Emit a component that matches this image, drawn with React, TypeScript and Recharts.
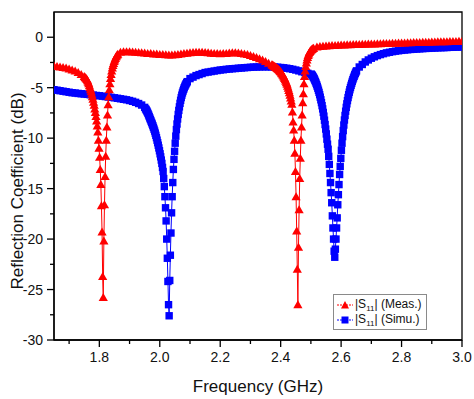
// S11 reflection coefficient, measured vs simulated

import React from 'react'
import { ScatterChart, Scatter, XAxis, YAxis, ReferenceArea } from 'recharts'

// measured |S11| (red triangles), frequencies in GHz, values in dB
const MEAS_FREQ_A = [1.65, 1.66, 1.67, 1.68, 1.69, 1.7, 1.71, 1.72, 1.73, 1.74, 1.75]
const MEAS_DB_A = [-2.85, -2.9, -2.95, -3.0, -3.05, -3.15, -3.25, -3.35, -3.5, -3.7, -3.9]

const MEAS_FREQ_B = [
  1.753, 1.755, 1.757, 1.759, 1.761, 1.763, 1.765, 1.767, 1.769, 1.771,
  1.773, 1.775, 1.777, 1.779, 1.781, 1.783, 1.785, 1.787, 1.789, 1.791,
  1.793, 1.795, 1.797, 1.799, 1.801, 1.803, 1.805, 1.807, 1.809, 1.811,
  1.813, 1.815, 1.817, 1.819, 1.821, 1.823, 1.825, 1.827, 1.829, 1.831,
  1.833, 1.835, 1.837, 1.839, 1.841, 1.843, 1.845, 1.847, 1.849, 1.851,
  1.853, 1.855, 1.857, 1.859, 1.861,
]
const MEAS_DB_B = [
  -3.98, -4.04, -4.11, -4.2, -4.3, -4.45, -4.6, -4.8, -5.0, -5.2,
  -5.4, -5.65, -5.9, -6.15, -6.45, -6.75, -7.1, -7.45, -7.85, -8.3,
  -8.8, -9.4, -10.2, -11.0, -11.9, -13.1, -14.6, -16.7, -19.3, -23.7,
  -25.8, -20.2, -16.6, -13.8, -11.8, -10.2, -8.9, -7.7, -6.7, -5.9,
  -5.2, -4.6, -4.1, -3.7, -3.35, -3.05, -2.8, -2.6, -2.4, -2.25,
  -2.1, -1.95, -1.85, -1.75, -1.68,
]

const MEAS_FREQ_C = [
  1.87, 1.88, 1.89, 1.9, 1.91, 1.92, 1.93, 1.94, 1.95, 1.96,
  1.97, 1.98, 1.99, 2.0, 2.01, 2.02, 2.03, 2.04, 2.05, 2.06,
  2.07, 2.08, 2.09, 2.1, 2.11, 2.12, 2.13, 2.14, 2.15, 2.16,
  2.17, 2.18, 2.19, 2.2, 2.21, 2.22, 2.23, 2.24, 2.25, 2.26,
  2.27, 2.28, 2.29, 2.3, 2.31, 2.32, 2.33, 2.34, 2.35, 2.36,
]
const MEAS_DB_C = [
  -1.5, -1.45, -1.45, -1.45, -1.47, -1.5, -1.52, -1.55, -1.57, -1.6,
  -1.62, -1.65, -1.67, -1.7, -1.72, -1.74, -1.75, -1.75, -1.73, -1.7,
  -1.66, -1.62, -1.58, -1.55, -1.52, -1.5, -1.5, -1.5, -1.52, -1.55,
  -1.58, -1.6, -1.62, -1.63, -1.62, -1.6, -1.57, -1.55, -1.55, -1.57,
  -1.6, -1.65, -1.72, -1.8, -1.9, -2.0, -2.12, -2.25, -2.4, -2.58,
]

const MEAS_FREQ_D = [
  2.371, 2.373, 2.375, 2.377, 2.379, 2.381, 2.383, 2.385, 2.387, 2.389,
  2.391, 2.393, 2.395, 2.397, 2.399, 2.401, 2.403, 2.405, 2.407, 2.409,
  2.411, 2.413, 2.415, 2.417, 2.419, 2.421, 2.423, 2.425, 2.427, 2.429,
  2.431, 2.433, 2.435, 2.437, 2.439, 2.441, 2.443, 2.445, 2.447, 2.449,
  2.451, 2.453, 2.455, 2.457, 2.459, 2.461, 2.463, 2.465, 2.467, 2.469,
  2.471, 2.473, 2.475, 2.477, 2.479, 2.481, 2.483, 2.485, 2.487, 2.489,
  2.491, 2.493, 2.495, 2.497, 2.499, 2.501, 2.503, 2.505, 2.507, 2.509,
]
const MEAS_DB_D = [
  -2.72, -2.76, -2.8, -2.84, -2.88, -2.92, -2.96, -3.0, -3.05, -3.1,
  -3.15, -3.2, -3.26, -3.33, -3.4, -3.48, -3.56, -3.65, -3.75, -3.85,
  -3.96, -4.08, -4.21, -4.35, -4.5, -4.67, -4.85, -5.05, -5.27, -5.5,
  -5.75, -6.02, -6.32, -6.65, -7.4, -8.4, -9.2, -10.2, -11.5, -13.3,
  -15.8, -19.2, -23.0, -26.5, -20.8, -17.1, -14.0, -12.0, -10.2, -8.9,
  -7.7, -6.5, -5.6, -4.6, -3.9, -3.35, -2.9, -2.55, -2.25, -2.0,
  -1.8, -1.65, -1.52, -1.42, -1.34, -1.27, -1.21, -1.16, -1.12, -1.08,
]

const MEAS_FREQ_E = [
  2.52, 2.53, 2.54, 2.55, 2.56, 2.57, 2.58, 2.59, 2.6, 2.61,
  2.62, 2.63, 2.64, 2.65, 2.66, 2.67, 2.68, 2.69, 2.7, 2.71,
  2.72, 2.73, 2.74, 2.75, 2.76, 2.77, 2.78, 2.79, 2.8, 2.81,
  2.82, 2.83, 2.84, 2.85, 2.86, 2.87, 2.88, 2.89, 2.9, 2.91,
  2.92, 2.93, 2.94, 2.95, 2.96, 2.97, 2.98, 2.99, 3.0,
]
const MEAS_DB_E = [
  -0.98, -0.93, -0.9, -0.87, -0.85, -0.83, -0.81, -0.79, -0.77, -0.76,
  -0.75, -0.74, -0.73, -0.72, -0.71, -0.7, -0.69, -0.68, -0.67, -0.66,
  -0.65, -0.64, -0.63, -0.62, -0.61, -0.6, -0.59, -0.58, -0.57, -0.56,
  -0.55, -0.54, -0.53, -0.52, -0.51, -0.5, -0.5, -0.49, -0.48, -0.47,
  -0.46, -0.46, -0.45, -0.44, -0.43, -0.43, -0.42, -0.41, -0.4,
]

// simulated |S11| (blue squares)
const SIMU_FREQ_A = [
  1.65, 1.66, 1.67, 1.68, 1.69, 1.7, 1.71, 1.72, 1.73, 1.74,
  1.75, 1.76, 1.77, 1.78, 1.79, 1.8, 1.81, 1.82, 1.83, 1.84,
  1.85, 1.86, 1.87, 1.88, 1.89, 1.9, 1.91, 1.92, 1.93, 1.94, 1.95,
]
const SIMU_DB_A = [
  -5.2, -5.25, -5.3, -5.35, -5.4, -5.45, -5.5, -5.53, -5.57, -5.6,
  -5.63, -5.66, -5.7, -5.73, -5.77, -5.8, -5.84, -5.88, -5.92, -5.96,
  -6.0, -6.05, -6.1, -6.15, -6.2, -6.27, -6.35, -6.45, -6.57, -6.72, -6.95,
]

const SIMU_FREQ_B = [
  1.953, 1.955, 1.957, 1.959, 1.961, 1.963, 1.965, 1.967, 1.969, 1.971,
  1.973, 1.975, 1.977, 1.979, 1.981, 1.983, 1.985, 1.987, 1.989, 1.991,
  1.993, 1.995, 1.997, 1.999, 2.001, 2.003, 2.005, 2.007, 2.009, 2.011,
  2.013, 2.015, 2.017, 2.019, 2.021, 2.023, 2.025, 2.027, 2.029, 2.031,
  2.033, 2.035, 2.037, 2.039, 2.041, 2.043, 2.045, 2.047, 2.049, 2.051,
  2.053, 2.055, 2.057, 2.059, 2.061, 2.063, 2.065, 2.067, 2.069, 2.071,
  2.073, 2.075, 2.077, 2.079, 2.081, 2.083, 2.085, 2.087, 2.089, 2.091,
]
const SIMU_DB_B = [
  -7.1, -7.2, -7.3, -7.42, -7.55, -7.7, -7.85, -8.0, -8.15, -8.3,
  -8.45, -8.6, -8.76, -8.93, -9.11, -9.3, -9.5, -9.72, -9.95, -10.2,
  -10.45, -10.7, -10.97, -11.25, -11.55, -11.85, -12.17, -12.5, -12.9, -13.3,
  -14.0, -14.8, -15.8, -16.9, -18.2, -20.0, -21.9, -24.2, -26.5, -27.6,
  -24.1, -21.6, -19.4, -17.4, -15.8, -14.4, -13.1, -12.1, -11.3, -10.5,
  -9.8, -9.15, -8.6, -8.1, -7.65, -7.25, -6.9, -6.55, -6.25, -5.98,
  -5.74, -5.52, -5.33, -5.16, -5.0, -4.86, -4.73, -4.61, -4.5, -4.4,
]

const SIMU_FREQ_C = [
  2.1, 2.11, 2.12, 2.13, 2.14, 2.15, 2.16, 2.17, 2.18, 2.19,
  2.2, 2.21, 2.22, 2.23, 2.24, 2.25, 2.26, 2.27, 2.28, 2.29,
  2.3, 2.31, 2.32, 2.33, 2.34, 2.35, 2.36, 2.37, 2.38, 2.39,
  2.4, 2.41, 2.42, 2.43, 2.44, 2.45, 2.46, 2.47, 2.48, 2.49,
]
const SIMU_DB_C = [
  -4.1, -3.95, -3.8, -3.7, -3.6, -3.5, -3.45, -3.4, -3.35, -3.3,
  -3.25, -3.22, -3.18, -3.15, -3.12, -3.1, -3.07, -3.05, -3.02, -3.0,
  -2.98, -2.96, -2.95, -2.94, -2.93, -2.93, -2.93, -2.94, -2.95, -2.97,
  -3.0, -3.03, -3.07, -3.12, -3.18, -3.25, -3.33, -3.42, -3.5, -3.58,
]

const SIMU_FREQ_D = [
  2.501, 2.503, 2.505, 2.507, 2.509, 2.511, 2.513, 2.515, 2.517, 2.519,
  2.521, 2.523, 2.525, 2.527, 2.529, 2.531, 2.533, 2.535, 2.537, 2.539,
  2.541, 2.543, 2.545, 2.547, 2.549, 2.551, 2.553, 2.555, 2.557, 2.559,
  2.561, 2.563, 2.565, 2.567, 2.569, 2.571, 2.573, 2.575, 2.577, 2.579,
  2.581, 2.583, 2.585, 2.587, 2.589, 2.591, 2.593, 2.595, 2.597, 2.599,
  2.601, 2.603, 2.605, 2.607, 2.609, 2.611, 2.613, 2.615, 2.617, 2.619,
  2.621, 2.623, 2.625, 2.627, 2.629, 2.631, 2.633, 2.635, 2.637, 2.639,
  2.641, 2.643, 2.645, 2.647, 2.649, 2.651,
]
const SIMU_DB_D = [
  -3.65, -3.72, -3.8, -3.9, -4.0, -4.12, -4.25, -4.39, -4.54, -4.7,
  -4.87, -5.05, -5.25, -5.46, -5.69, -5.94, -6.2, -6.48, -6.78, -7.1,
  -7.45, -7.82, -8.22, -8.65, -9.1, -9.58, -10.1, -10.6, -11.1, -11.8,
  -12.6, -13.5, -14.4, -15.4, -16.4, -17.7, -18.9, -20.0, -21.2, -21.8,
  -21.0, -20.0, -18.9, -17.9, -16.6, -15.6, -14.6, -13.6, -12.8, -12.0,
  -11.2, -10.5, -9.85, -9.25, -8.7, -8.2, -7.75, -7.33, -6.95, -6.6,
  -6.28, -5.98, -5.7, -5.45, -5.2, -4.98, -4.77, -4.57, -4.38, -4.2,
  -4.03, -3.87, -3.72, -3.58, -3.45, -3.33,
]

const SIMU_FREQ_E = [
  2.66, 2.67, 2.68, 2.69, 2.7, 2.71, 2.72, 2.73, 2.74, 2.75,
  2.76, 2.77, 2.78, 2.79, 2.8, 2.81, 2.82, 2.83, 2.84, 2.85,
  2.86, 2.87, 2.88, 2.89, 2.9, 2.91, 2.92, 2.93, 2.94, 2.95,
  2.96, 2.97, 2.98, 2.99, 3.0,
]
const SIMU_DB_E = [
  -2.95, -2.7, -2.45, -2.25, -2.08, -1.94, -1.82, -1.72, -1.63, -1.55,
  -1.49, -1.43, -1.38, -1.34, -1.3, -1.27, -1.24, -1.21, -1.19, -1.17,
  -1.15, -1.13, -1.11, -1.1, -1.08, -1.07, -1.05, -1.04, -1.03, -1.02,
  -1.0, -0.99, -0.98, -0.97, -0.96,
]

const X_TICKS = [1.7, 1.8, 1.9, 2.0, 2.1, 2.2, 2.3, 2.4, 2.5, 2.6, 2.7, 2.8, 2.9, 3.0]
const X_MAJOR = [1.8, 2.0, 2.2, 2.4, 2.6, 2.8, 3.0]
const Y_TICKS = [-30, -27.5, -25, -22.5, -20, -17.5, -15, -12.5, -10, -7.5, -5, -2.5, 0]
const Y_MAJOR = [-30, -25, -20, -15, -10, -5, 0]

const RED = '#ff0000'
const BLUE = '#0000ff'
const FONT = '"Liberation Sans", Arial, sans-serif'

const toPoints = (freqs: number[][], vals: number[][]) =>
  freqs.flatMap((fs, k) => fs.map((f, i) => ({ f, s: vals[k][i] })))

const measData = toPoints(
  [MEAS_FREQ_A, MEAS_FREQ_B, MEAS_FREQ_C, MEAS_FREQ_D, MEAS_FREQ_E],
  [MEAS_DB_A, MEAS_DB_B, MEAS_DB_C, MEAS_DB_D, MEAS_DB_E],
)
const simuData = toPoints(
  [SIMU_FREQ_A, SIMU_FREQ_B, SIMU_FREQ_C, SIMU_FREQ_D, SIMU_FREQ_E],
  [SIMU_DB_A, SIMU_DB_B, SIMU_DB_C, SIMU_DB_D, SIMU_DB_E],
)

const isMajor = (v: number, majors: number[]) => majors.some((m) => Math.abs(m - v) < 1e-6)

const Triangle = (props: any) => {
  const { cx, cy } = props
  if (cx == null || cy == null) return null
  return <polygon points={`${cx - 4.6},${cy + 3.5} ${cx + 4.6},${cy + 3.5} ${cx},${cy - 4.5}`} fill={RED} />
}

const Square = (props: any) => {
  const { cx, cy } = props
  if (cx == null || cy == null) return null
  return <rect x={cx - 3.7} y={cy - 3.7} width={7.4} height={7.4} fill={BLUE} />
}

const XTick = (props: any) => {
  const { x, y, payload } = props
  const major = isMajor(payload.value, X_MAJOR)
  return (
    <g>
      <line x1={x} x2={x} y1={y} y2={y + (major ? 7 : 4)} stroke="#000" strokeWidth={1.3} />
      {major && (
        <text x={x} y={y + 22} textAnchor="middle" fontSize={14} fontFamily={FONT} fill="#111">
          {payload.value.toFixed(1)}
        </text>
      )}
    </g>
  )
}

const YTick = (props: any) => {
  const { x, y, payload } = props
  const major = isMajor(payload.value, Y_MAJOR)
  return (
    <g>
      <line x1={x} x2={x - (major ? 7 : 4)} y1={y} y2={y} stroke="#000" strokeWidth={1.3} />
      {major && (
        <text x={x - 11} y={y + 5} textAnchor="end" fontSize={14} fontFamily={FONT} fill="#111">
          {String(payload.value)}
        </text>
      )}
    </g>
  )
}

const LegendBox = () => (
  <div
    style={{
      position: 'absolute',
      left: 333,
      top: 294,
      border: '1px solid #8a8a8a',
      background: '#fff',
      padding: '2px 4px 2px 3px',
      fontFamily: FONT,
      fontSize: 12,
      color: '#111',
      lineHeight: '15px',
    }}
  >
    {[
      { label: 'Meas.', color: RED, tri: true },
      { label: 'Simu.', color: BLUE, tri: false },
    ].map((item) => (
      <div key={item.label} style={{ display: 'flex', alignItems: 'center', whiteSpace: 'nowrap' }}>
        <svg width={16} height={12} style={{ marginRight: 2 }}>
          <line x1={0} x2={16} y1={6} y2={6} stroke={item.color} strokeWidth={1} strokeDasharray="2 1" />
          {item.tri ? (
            <polygon points="4,9.5 12,9.5 8,2" fill={item.color} />
          ) : (
            <rect x={4.5} y={2.5} width={7} height={7} fill={item.color} />
          )}
        </svg>
        <span>
          |S<sub style={{ fontSize: 8, lineHeight: 0 }}>11</sub>| ({item.label})
        </span>
      </div>
    ))}
  </div>
)

const YLabel = (props: any) => {
  const { viewBox } = props
  const cx = viewBox.x + 17
  const cy = viewBox.y + viewBox.height / 2 + 15
  return (
    <text
      x={cx}
      y={cy}
      transform={`rotate(-90, ${cx}, ${cy})`}
      textAnchor="middle"
      dominantBaseline="central"
      fontSize={17}
      fontFamily={FONT}
      fill="#111"
    >
      Reflection Coefficient (dB)
    </text>
  )
}

const XLabel = (props: any) => {
  const { viewBox } = props
  const cx = viewBox.x + viewBox.width / 2
  return (
    <text x={cx} y={392} textAnchor="middle" fontSize={17} fontFamily={FONT} fill="#111">
      Frequency (GHz)
    </text>
  )
}

export default function App() {
  return (
    <div style={{ position: 'absolute', left: 0, top: 0, width: 474, height: 399, background: '#fff' }}>
      <ScatterChart width={474} height={399} margin={{ top: 12, right: 12, left: 0, bottom: 1 }}>
        <XAxis
          type="number"
          dataKey="f"
          domain={[1.65, 3.0]}
          ticks={X_TICKS}
          allowDataOverflow
          tickLine={false}
          tickSize={0}
          tickMargin={0}
          tick={<XTick />}
          height={58}
          axisLine={{ stroke: '#000', strokeWidth: 1.3 }}
          label={<XLabel />}
        />
        <YAxis
          type="number"
          dataKey="s"
          domain={[-30, 2.5]}
          ticks={Y_TICKS}
          allowDataOverflow
          tickLine={false}
          tickSize={0}
          tickMargin={0}
          tick={<YTick />}
          width={54}
          axisLine={{ stroke: '#000', strokeWidth: 1.3 }}
          label={<YLabel />}
        />
        <ReferenceArea x1={1.65} x2={3.0} y1={-30} y2={2.5} fill="none" stroke="#000" strokeWidth={1.3} />
        <Scatter
          name="Simu."
          data={simuData}
          dataKey="s"
          shape={<Square />}
          fill={BLUE}
          line={{ stroke: BLUE, strokeWidth: 1 }}
          isAnimationActive={false}
        />
        <Scatter
          name="Meas."
          data={measData}
          dataKey="s"
          shape={<Triangle />}
          fill={RED}
          line={{ stroke: RED, strokeWidth: 1 }}
          isAnimationActive={false}
        />
      </ScatterChart>
      <LegendBox />
    </div>
  )
}
